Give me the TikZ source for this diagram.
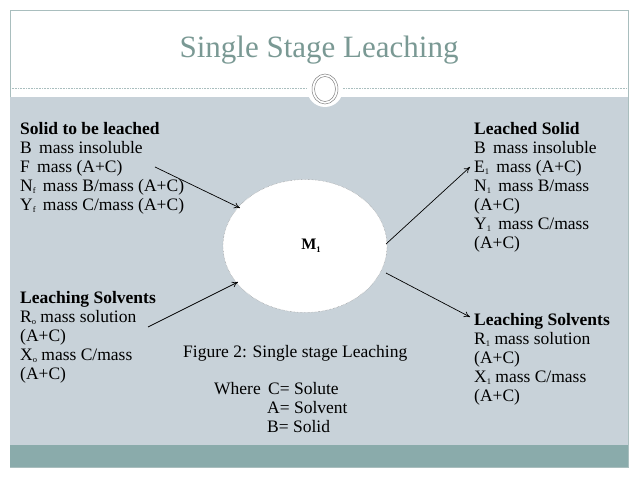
\documentclass[tikz,border=0pt]{standalone}
\usepackage{fontspec}
\setmainfont{Liberation Serif}
\usetikzlibrary{shapes.geometric,arrows.meta}
\definecolor{panel}{HTML}{C8D2D9}
\definecolor{band}{HTML}{8AABAB}
\definecolor{titlec}{HTML}{7A9994}
\definecolor{framec}{HTML}{A9BEBE}
\tikzset{
  txt/.style={anchor=north west, align=left, inner sep=0pt, font=\fontsize{17.5}{19}\selectfont},
  arr/.style={-{To[length=6pt,width=6pt]}, line width=0.7pt},
}
\newcommand{\sbs}[1]{\raisebox{-0.3ex}{\fontsize{8.5}{8.5}\selectfont #1}}
\begin{document}
\begin{tikzpicture}[x=1pt,y=-1pt]
\useasboundingbox (0,0) rectangle (638,478);
\fill[white] (0,0) rectangle (638,478);
\draw[framec, line width=0.6pt] (10,10) rectangle (628,467);
\fill[panel] (10,97) rectangle (628,445);
\fill[band] (10,445) rectangle (628,467);
\draw[framec, densely dotted, line width=0.6pt] (10,88) -- (628,88);
\fill[white] (325,89) circle (18);
\draw[gray, line width=0.5pt] (325,89) ellipse (13 and 15);
\draw[gray, line width=0.5pt] (325,89) ellipse (10.5 and 12.5);
\node[anchor=base, font=\fontsize{31}{31}\selectfont, text=titlec] (title) at (319,58) {Single Stage Leaching};

\node[ellipse, draw=gray, densely dotted, fill=white, minimum width=164, minimum height=133, inner sep=0pt] (m) at (305,246) {};
\node[anchor=base, font=\bfseries\fontsize{16}{16}\selectfont] (mlab) at (311,250) {M\sbs{1}};

\node[txt] (sl) at (20,122) {\textbf{Solid to be leached}\\B\, mass insoluble\\F\, mass (A+C)\\N\sbs{f}\, mass B/mass (A+C)\\Y\sbs{f}\, mass C/mass (A+C)};
\node[txt] (ls) at (20,291) {\textbf{Leaching Solvents}\\R\sbs{o} mass solution\\(A+C)\\X\sbs{o} mass C/mass\\(A+C)};
\node[txt] (rs) at (474,122) {\textbf{Leached Solid}\\B\, mass insoluble\\E\sbs{1}\, mass (A+C)\\N\sbs{1}\, mass B/mass\\(A+C)\\Y\sbs{1}\, mass C/mass\\(A+C)};
\node[txt] (rl) at (474,313) {\textbf{Leaching Solvents}\\R\sbs{1} mass solution\\(A+C)\\X\sbs{1} mass C/mass\\(A+C)};
\node[txt] (cap) at (183,345) {Figure 2: Single stage Leaching};
\node[txt] (wh) at (214,382) {Where\, C= Solute\\\hspace*{53pt}A= Solvent\\\hspace*{53pt}B= Solid};

\coordinate (a1) at (155,167);
\coordinate (a2) at (148,327);
\coordinate (b1) at (470,167);
\coordinate (b2) at (470,317);
\draw[arr] (a1) -- (240,208);
\draw[arr] (a2) -- (238,282);
\draw[arr] (386,244) -- (b1);
\draw[arr] (386,273) -- (b2);
\end{tikzpicture}
\end{document}
